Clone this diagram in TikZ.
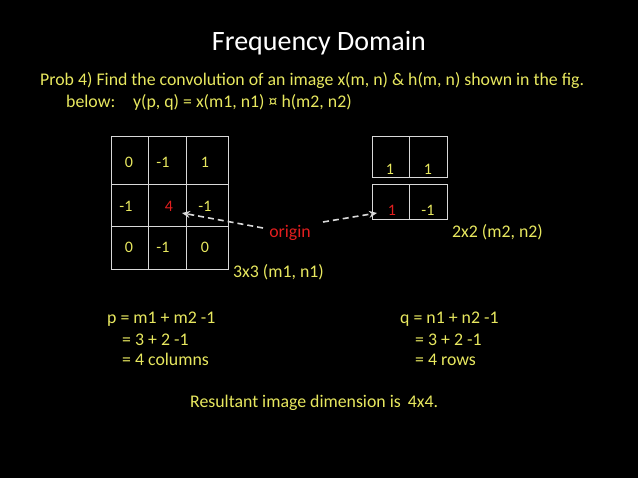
\documentclass[tikz,border=0pt]{standalone}
\usepackage{fontspec}
\setmainfont{Carlito}
\usetikzlibrary{arrows.meta}
\definecolor{yel}{RGB}{232,232,95}
\definecolor{rd}{RGB}{225,30,30}
\tikzset{
 grid/.style={draw=white!85!black,line width=1pt},
 num/.style={text=yel,font=\fontsize{16}{19}\selectfont,inner sep=0pt,anchor=base},
 txt/.style={text=yel,font=\fontsize{17.8}{21}\selectfont,inner sep=0pt,anchor=base west},
 arr/.style={draw=white!85!black,dash pattern=on 6pt off 4pt,line width=1.6pt,-{Stealth[length=8pt,width=7pt]}}
}
\begin{document}
\begin{tikzpicture}[x=1pt,y=-1pt]
\fill[black] (0,0) rectangle (638,478);
\useasboundingbox (0,0) rectangle (638,478);
\node[text=white,font=\fontsize{28}{32}\selectfont,inner sep=0pt,anchor=base] (title) at (319,51) {Frequency Domain};
\node[txt] (l1) at (40,86) {Prob 4) Find the convolution of an image x(m, n) \& h(m, n) shown in the fig.};
\node[txt] (l2) at (66,108) {below:\quad y(p, q) = x(m1, n1) ¤ h(m2, n2)};
% left grid
\draw[grid] (111,137) rectangle (228,270);
\draw[grid] (148.5,137) -- (148.5,270) (186,137) -- (186,270) (111,185) -- (228,185) (111,227) -- (228,227);
\node[num] (a1) at (129,168) {0};
\node[num] (a2) at (163,168) {-1};
\node[num] (a3) at (205,168) {1};
\node[num] (b1) at (126,212) {-1};
\node[num,text=rd] (b2) at (169,212) {4};
\node[num] (b3) at (205,212) {-1};
\node[num] (c1) at (129,253) {0};
\node[num] (c2) at (163,253) {-1};
\node[num] (c3) at (205,253) {0};
% right grid
\draw[grid] (372,137) rectangle (447,178) (409,137) -- (409,178);
\draw[grid] (372,185) rectangle (447,220) (409,185) -- (409,220);
\node[num] (d1) at (390,175) {1};
\node[num] (d2) at (428,175) {1};
\node[num,text=rd] (e1) at (392,216) {1};
\node[num] (e2) at (428,216) {-1};
% labels
\node[txt,text=rd,anchor=base] (origin) at (290,238) {origin};
\node[txt] (s2) at (452,238) {2x2 (m2, n2)};
\node[txt] (s3) at (233,278) {3x3 (m1, n1)};
\coordinate (t1) at (182,213);
\coordinate (t2) at (377,213);
\coordinate (f1) at (263,228);
\coordinate (f2) at (323,222);
\draw[arr] (f1) -- (t1);
\draw[arr] (f2) -- (t2);
% equations
\node[txt] (p1) at (107,324) {p = m1 + m2 -1};
\node[txt] (p2) at (122,346) {= 3 + 2 -1};
\node[txt] (p3) at (122,366) {= 4 columns};
\node[txt] (q1) at (400,324) {q = n1 + n2 -1};
\node[txt] (q2) at (415,346) {= 3 + 2 -1};
\node[txt] (q3) at (415,366) {= 4 rows};
\node[txt] (res) at (190,408) {Resultant image dimension is\, 4x4.};
\end{tikzpicture}
\end{document}
